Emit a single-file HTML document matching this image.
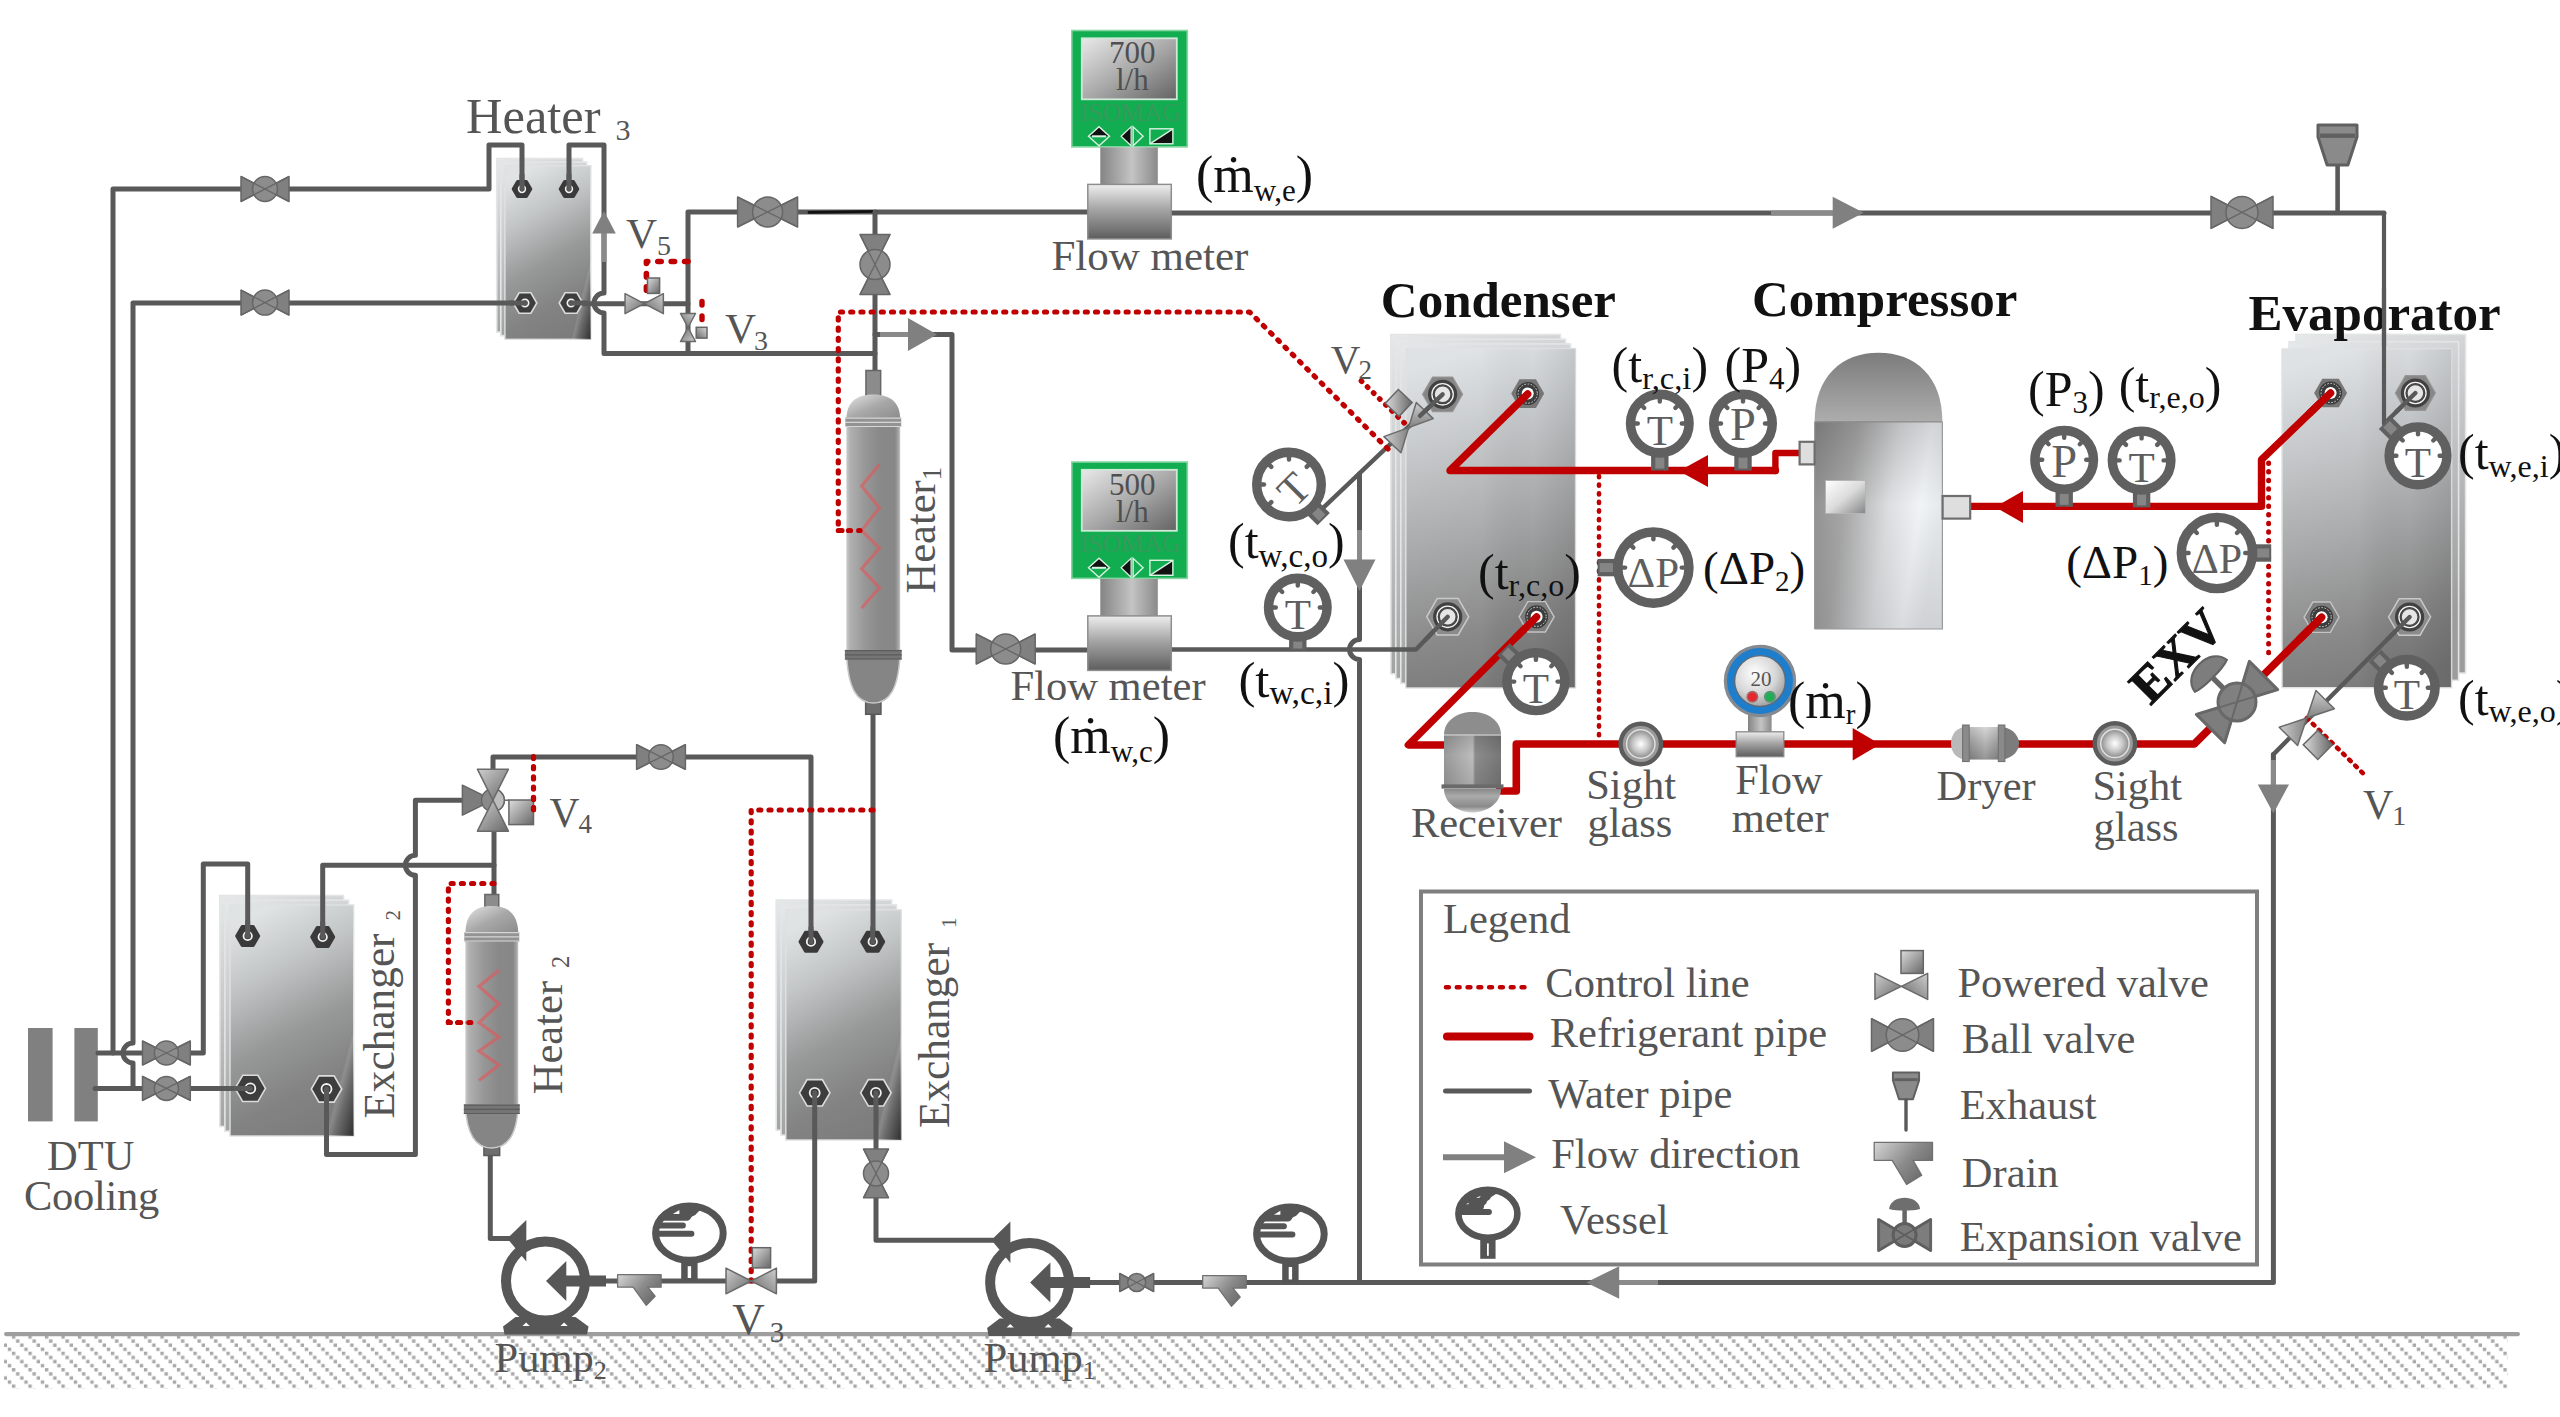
<!DOCTYPE html>
<html lang="en"><head><meta charset="utf-8"><title>Heat pump test rig schematic</title><style>html,body{margin:0;padding:0;background:#fff;}svg{display:block;}</style></head><body>
<svg width="2560" height="1417" viewBox="0 0 2560 1417" font-family="'Liberation Serif', 'DejaVu Serif', serif">
<defs>
<linearGradient id="gPlate" x1="0.36" y1="0" x2="0.64" y2="1">
 <stop offset="0" stop-color="#dfe3e4"/><stop offset="0.25" stop-color="#c3c6c7"/>
 <stop offset="0.55" stop-color="#979898"/><stop offset="0.80" stop-color="#838383"/>
 <stop offset="1" stop-color="#7c7c7c"/>
</linearGradient>
<linearGradient id="gCorner" x1="0.55" y1="0.78" x2="1" y2="1">
 <stop offset="0" stop-color="#000" stop-opacity="0"/><stop offset="0.55" stop-color="#000" stop-opacity="0"/>
 <stop offset="0.62" stop-color="#fff" stop-opacity="0.10"/><stop offset="0.72" stop-color="#000" stop-opacity="0.12"/>
 <stop offset="1" stop-color="#000" stop-opacity="0.62"/>
</linearGradient>
<linearGradient id="gPlateBig" x1="0.42" y1="0" x2="0.58" y2="1">
 <stop offset="0" stop-color="#dde1e3"/><stop offset="0.22" stop-color="#c6c9cb"/>
 <stop offset="0.55" stop-color="#a2a3a4"/><stop offset="0.82" stop-color="#828282"/>
 <stop offset="1" stop-color="#727272"/>
</linearGradient>
<linearGradient id="gPlateBigH" x1="0" y1="0" x2="1" y2="0">
 <stop offset="0" stop-color="#fff" stop-opacity="0.04"/><stop offset="0.45" stop-color="#fff" stop-opacity="0.06"/>
 <stop offset="0.75" stop-color="#000" stop-opacity="0.0"/><stop offset="1" stop-color="#000" stop-opacity="0.07"/>
</linearGradient>
<linearGradient id="gBack" x1="0" y1="0" x2="0.3" y2="1">
 <stop offset="0" stop-color="#e6e9ea"/><stop offset="0.5" stop-color="#c2c4c5"/><stop offset="1" stop-color="#9c9c9c"/>
</linearGradient>
<linearGradient id="gCyl" x1="0" y1="0" x2="1" y2="0">
 <stop offset="0" stop-color="#cacaca"/><stop offset="0.07" stop-color="#b0b0b0"/>
 <stop offset="0.35" stop-color="#979797"/><stop offset="0.62" stop-color="#898989"/>
 <stop offset="0.90" stop-color="#878787"/><stop offset="0.96" stop-color="#a0a0a0"/><stop offset="1" stop-color="#c6c6c6"/>
</linearGradient>
<linearGradient id="gDome" x1="0" y1="0" x2="1" y2="1">
 <stop offset="0" stop-color="#e4e4e4"/><stop offset="0.5" stop-color="#a8a8a8"/><stop offset="1" stop-color="#8a8a8a"/>
</linearGradient>
<linearGradient id="gScreen" x1="0" y1="0" x2="1" y2="1">
 <stop offset="0" stop-color="#e9e9e9"/><stop offset="0.5" stop-color="#aaaaaa"/><stop offset="1" stop-color="#636363"/>
</linearGradient>
<linearGradient id="gStem" x1="0" y1="0" x2="1" y2="0">
 <stop offset="0" stop-color="#848484"/><stop offset="0.55" stop-color="#c4c4c4"/><stop offset="1" stop-color="#8a8a8a"/>
</linearGradient>
<linearGradient id="gBody" x1="0" y1="0" x2="0" y2="1">
 <stop offset="0" stop-color="#eeeeee"/><stop offset="0.45" stop-color="#a6a6a6"/><stop offset="1" stop-color="#5e5e5e"/>
</linearGradient>
<linearGradient id="gTri" x1="0" y1="0" x2="1" y2="1">
 <stop offset="0" stop-color="#cfcfcf"/><stop offset="1" stop-color="#686868"/>
</linearGradient>
<linearGradient id="gTriR" x1="1" y1="0" x2="0" y2="1">
 <stop offset="0" stop-color="#cfcfcf"/><stop offset="1" stop-color="#686868"/>
</linearGradient>
<linearGradient id="gAct" x1="0" y1="0" x2="1" y2="1">
 <stop offset="0" stop-color="#dcdcdc"/><stop offset="1" stop-color="#676767"/>
</linearGradient>
<linearGradient id="gComp" x1="0" y1="0.1" x2="1" y2="0.35">
 <stop offset="0" stop-color="#8c8c8c"/><stop offset="0.30" stop-color="#a8a8a8"/>
 <stop offset="0.62" stop-color="#dcdee0"/><stop offset="0.85" stop-color="#f1f4f7"/><stop offset="1" stop-color="#e6e9ec"/>
</linearGradient>
<linearGradient id="gCompV" x1="0" y1="0" x2="0" y2="1">
 <stop offset="0" stop-color="#000" stop-opacity="0.13"/><stop offset="0.4" stop-color="#000" stop-opacity="0"/>
 <stop offset="1" stop-color="#000" stop-opacity="0.10"/>
</linearGradient>
<linearGradient id="gCompDome" x1="0" y1="0" x2="0" y2="1">
 <stop offset="0" stop-color="#7c7c7c"/><stop offset="1" stop-color="#adadad"/>
</linearGradient>
<linearGradient id="gWin" x1="0" y1="0" x2="1" y2="1">
 <stop offset="0" stop-color="#ffffff"/><stop offset="0.5" stop-color="#dcdcdc"/><stop offset="1" stop-color="#858585"/>
</linearGradient>
<linearGradient id="gRecv" x1="0" y1="0" x2="1" y2="0">
 <stop offset="0" stop-color="#9a9a9a"/><stop offset="0.5" stop-color="#bdbdbd"/><stop offset="0.55" stop-color="#8c8c8c"/><stop offset="1" stop-color="#777"/>
</linearGradient>
<linearGradient id="gRecvV" x1="0" y1="0" x2="0" y2="1">
 <stop offset="0" stop-color="#888"/><stop offset="0.3" stop-color="#aaa"/><stop offset="0.75" stop-color="#8a8a8a"/><stop offset="1" stop-color="#d0d0d0"/>
</linearGradient>
<radialGradient id="gSight" cx="0.5" cy="0.5" r="0.5">
 <stop offset="0" stop-color="#ffffff"/><stop offset="0.55" stop-color="#c8c8c8"/><stop offset="1" stop-color="#8c8c8c"/>
</radialGradient>
<radialGradient id="gFace" cx="0.4" cy="0.35" r="0.7">
 <stop offset="0" stop-color="#ffffff"/><stop offset="0.6" stop-color="#d6d6d6"/><stop offset="1" stop-color="#9a9a9a"/>
</radialGradient>
<linearGradient id="gDrain" x1="0" y1="0" x2="1" y2="0.6">
 <stop offset="0" stop-color="#d6d6d6"/><stop offset="0.6" stop-color="#8a8a8a"/><stop offset="1" stop-color="#6a6a6a"/>
</linearGradient>
<pattern id="hatch" x="11.9" y="1335.3" width="16.5" height="16.4" patternUnits="userSpaceOnUse">
 <rect width="16.5" height="16.4" fill="#fff"/>
 <rect x="0" y="0" width="3.4" height="3.4" fill="#a8a8a8"/><rect x="4.1" y="4.1" width="3.4" height="3.4" fill="#a8a8a8"/>
 <rect x="8.25" y="8.2" width="3.4" height="3.4" fill="#a8a8a8"/><rect x="12.4" y="12.3" width="3.4" height="3.4" fill="#a8a8a8"/>
</pattern>
</defs>
<rect x="0" y="0" width="2560" height="1417" fill="#ffffff"/>
<rect x="4" y="1335.3" width="2503.5" height="53.2" fill="url(#hatch)"/>
<rect x="4" y="1332" width="2516" height="4.2" rx="2.1" fill="#9e9e9e"/>
<rect x="496.7" y="158.5" width="85.9" height="173.6" fill="url(#gBack)" stroke="#e3e5e6" stroke-width="1.6"/>
<rect x="500.8" y="162.1" width="85.9" height="173.6" fill="url(#gBack)" stroke="#e3e5e6" stroke-width="1.6"/>
<rect x="504.9" y="165.7" width="85.9" height="173.6" fill="url(#gPlate)" stroke="#dfe1e2" stroke-width="1.4"/>
<rect x="504.9" y="165.7" width="85.9" height="173.6" fill="url(#gCorner)"/>
<rect x="219.8" y="895.5" width="123.7" height="231" fill="url(#gBack)" stroke="#e3e5e6" stroke-width="1.6"/>
<rect x="224.9" y="900.2" width="123.7" height="231" fill="url(#gBack)" stroke="#e3e5e6" stroke-width="1.6"/>
<rect x="230" y="905" width="123.7" height="231" fill="url(#gPlate)" stroke="#dfe1e2" stroke-width="1.4"/>
<rect x="230" y="905" width="123.7" height="231" fill="url(#gCorner)"/>
<rect x="776.2" y="900.0" width="115.5" height="230.2" fill="url(#gBack)" stroke="#e3e5e6" stroke-width="1.6"/>
<rect x="781.0" y="904.9" width="115.5" height="230.2" fill="url(#gBack)" stroke="#e3e5e6" stroke-width="1.6"/>
<rect x="785.8" y="909.8" width="115.5" height="230.2" fill="url(#gPlate)" stroke="#dfe1e2" stroke-width="1.4"/>
<rect x="785.8" y="909.8" width="115.5" height="230.2" fill="url(#gCorner)"/>
<rect x="1390.8" y="334.5" width="169.7" height="339.4" fill="url(#gBack)" stroke="#e3e5e6" stroke-width="1.6"/>
<rect x="1395.8" y="339.2" width="169.7" height="339.4" fill="url(#gBack)" stroke="#e3e5e6" stroke-width="1.6"/>
<rect x="1400.8" y="343.9" width="169.7" height="339.4" fill="url(#gBack)" stroke="#e3e5e6" stroke-width="1.6"/>
<rect x="1405.8" y="348.6" width="169.7" height="339.4" fill="url(#gPlateBig)" stroke="#dfe1e2" stroke-width="1.4"/>
<rect x="1405.8" y="348.6" width="169.7" height="339.4" fill="url(#gPlateBigH)"/>
<rect x="2296.0" y="334.4" width="169.6" height="338.7" fill="url(#gBack)" stroke="#e3e5e6" stroke-width="1.6"/>
<rect x="2289.0" y="341.7" width="169.6" height="338.7" fill="url(#gBack)" stroke="#e3e5e6" stroke-width="1.6"/>
<rect x="2282" y="349" width="169.6" height="338.7" fill="url(#gPlateBig)" stroke="#dfe1e2" stroke-width="1.4"/>
<rect x="2282" y="349" width="169.6" height="338.7" fill="url(#gPlateBigH)"/>
<rect x="28" y="1028" width="24.6" height="93.4" fill="#808080"/>
<rect x="74.4" y="1028" width="23.4" height="93.4" fill="#808080"/>
<path d="M98,1053 H203.3 V864 H247.7 V936" fill="none" stroke="#595959" stroke-width="5" stroke-linejoin="round" stroke-linecap="round" />
<path d="M113,1053 V189 H489 V145 H522 V189" fill="none" stroke="#595959" stroke-width="5" stroke-linejoin="round" stroke-linecap="round" />
<path d="M95,1088.4 H250" fill="none" stroke="#595959" stroke-width="5" stroke-linejoin="round" stroke-linecap="round" />
<path d="M133,1088.4 V1063 A10,10 0 0 1 133,1043 V303 H525" fill="none" stroke="#595959" stroke-width="5" stroke-linejoin="round" stroke-linecap="round" />
<path d="M569,189 V145 H604 V293 A10,10 0 0 0 604,313 V353.5 H875" fill="none" stroke="#595959" stroke-width="5" stroke-linejoin="round" stroke-linecap="round" />
<path d="M571,303.7 H688" fill="none" stroke="#595959" stroke-width="5" stroke-linejoin="round" stroke-linecap="round" />
<path d="M688,353.5 V212 H1090" fill="none" stroke="#595959" stroke-width="5" stroke-linejoin="round" stroke-linecap="round" />
<line x1="809" y1="212.4" x2="876" y2="211.4" stroke="#111" stroke-width="2.8" stroke-linecap="round"/>
<path d="M875,212 V372" fill="none" stroke="#595959" stroke-width="5" stroke-linejoin="round" stroke-linecap="round" />
<path d="M875,334.5 H952 V650 H1090" fill="none" stroke="#595959" stroke-width="5" stroke-linejoin="round" stroke-linecap="round" />
<path d="M1170,213 H2384" fill="none" stroke="#595959" stroke-width="5" stroke-linejoin="round" stroke-linecap="round" />
<path d="M2384,213 V424" fill="none" stroke="#595959" stroke-width="4.2" stroke-linejoin="round" stroke-linecap="round" />
<path d="M1170,649.5 H1416 L1447.7,616.8" fill="none" stroke="#595959" stroke-width="4.4" stroke-linejoin="round" stroke-linecap="round" />
<path d="M1442.6,394.3 L1317,513.7" fill="none" stroke="#595959" stroke-width="4.4" stroke-linejoin="round" stroke-linecap="round" />
<path d="M1359.5,474 V639.5 A10,10 0 0 0 1359.5,659.5 V1282.5" fill="none" stroke="#595959" stroke-width="5" stroke-linejoin="round" stroke-linecap="round" />
<path d="M2388,420 L2415.4,393" fill="none" stroke="#595959" stroke-width="4.4" stroke-linejoin="round" stroke-linecap="round" />
<path d="M2409.6,617 L2273.4,754.4" fill="none" stroke="#595959" stroke-width="4.4" stroke-linejoin="round" stroke-linecap="round" />
<path d="M2273.4,754.4 V1282.5 H1070" fill="none" stroke="#595959" stroke-width="5" stroke-linejoin="round" stroke-linecap="round" />
<path d="M993,1240.3 H876 V1093" fill="none" stroke="#595959" stroke-width="5" stroke-linejoin="round" stroke-linecap="round" />
<path d="M811,941.7 V757 H493 V770" fill="none" stroke="#595959" stroke-width="5" stroke-linejoin="round" stroke-linecap="round" />
<path d="M494,830 V895" fill="none" stroke="#595959" stroke-width="5" stroke-linejoin="round" stroke-linecap="round" />
<path d="M873,941.7 V714" fill="none" stroke="#595959" stroke-width="5" stroke-linejoin="round" stroke-linecap="round" />
<path d="M814.7,1093 V1281 H600" fill="none" stroke="#595959" stroke-width="5" stroke-linejoin="round" stroke-linecap="round" />
<path d="M510,1238.5 H490.3 V1155" fill="none" stroke="#595959" stroke-width="5" stroke-linejoin="round" stroke-linecap="round" />
<path d="M322.7,937 V865.3 H494" fill="none" stroke="#595959" stroke-width="5" stroke-linejoin="round" stroke-linecap="round" />
<path d="M464,800.2 H415.4 V855.3 A10,10 0 0 0 415.4,875.3 V1154.5 H326.5 V1089" fill="none" stroke="#595959" stroke-width="5" stroke-linejoin="round" stroke-linecap="round" />
<line x1="2337.6" y1="163" x2="2337.6" y2="213" stroke="#595959" stroke-width="4.6"/>
<line x1="604" y1="233" x2="604" y2="262" stroke="#8a8a8a" stroke-width="5"/>
<line x1="1771" y1="213" x2="1834" y2="213" stroke="#8a8a8a" stroke-width="5"/>
<line x1="1359.5" y1="530" x2="1359.5" y2="561" stroke="#8a8a8a" stroke-width="5"/>
<line x1="2273.4" y1="760" x2="2273.4" y2="786" stroke="#8a8a8a" stroke-width="5"/>
<line x1="1618" y1="1282.5" x2="1658" y2="1282.5" stroke="#8a8a8a" stroke-width="5"/>
<line x1="880" y1="334.5" x2="910" y2="334.5" stroke="#8a8a8a" stroke-width="5"/>
<polygon points="604.0,211.0 592.2,233.5 615.8,233.5" fill="#808080"/>
<polygon points="937.0,334.5 908.0,318.0 908.0,351.0" fill="#808080"/>
<polygon points="1863.7,212.7 1832.7,196.7 1832.7,228.7" fill="#808080"/>
<polygon points="1359.5,591.0 1343.5,559.5 1375.5,559.5" fill="#808080"/>
<polygon points="2273.4,813.4 2257.8,784.4 2289.0,784.4" fill="#808080"/>
<polygon points="1586.2,1282.5 1619.2,1266.2 1619.2,1298.8" fill="#808080"/>
<path d="M1803,453 H1775.4 V471" fill="none" stroke="#c00000" stroke-width="6.4" stroke-linejoin="round" stroke-linecap="round" />
<path d="M1775.5,470.5 H1450 L1527.7,394" fill="none" stroke="#c00000" stroke-width="7.4" stroke-linejoin="round" stroke-linecap="round" />
<path d="M2330.6,393 L2261.5,459.6 V506.4 H1970" fill="none" stroke="#c00000" stroke-width="7.4" stroke-linejoin="round" stroke-linecap="round" />
<path d="M1536.6,616.8 L1408.3,745 H1446" fill="none" stroke="#c00000" stroke-width="7.4" stroke-linejoin="round" stroke-linecap="round" />
<path d="M1499,791 H1516.3 V744 H2194.3 L2321.6,617.2" fill="none" stroke="#c00000" stroke-width="7.6" stroke-linejoin="round" stroke-linecap="round" />
<polygon points="1679.0,471.0 1708.0,455.0 1708.0,487.0" fill="#c00000"/>
<polygon points="1995.0,507.0 2023.0,491.0 2023.0,523.0" fill="#c00000"/>
<polygon points="1880.2,744.3 1852.7,728.0 1852.7,760.6" fill="#c00000"/>
<path d="M1388,449 L1249.6,312 H838.3 V530.5 H860" fill="none" stroke="#c00000" stroke-width="5.2" stroke-linecap="round" stroke-linejoin="round" stroke-dasharray="2 8.2"/>
<path d="M1361.3,381 L1409.3,427.8" fill="none" stroke="#c00000" stroke-width="5.4" stroke-linecap="round" stroke-linejoin="round" stroke-dasharray="0.6 7.9"/>
<path d="M688,261.5 H646.4 V292.5" fill="none" stroke="#c00000" stroke-width="5.6" stroke-linecap="round" stroke-linejoin="round" stroke-dasharray="3.4 10"/>
<path d="M702,301.5 V334" fill="none" stroke="#c00000" stroke-width="5.4" stroke-linecap="round" stroke-linejoin="round" stroke-dasharray="3.6 10.8"/>
<path d="M1599,476 V740" fill="none" stroke="#c00000" stroke-width="4.6" stroke-linecap="round" stroke-linejoin="round" stroke-dasharray="1.2 7.4"/>
<path d="M2268.6,463 V659" fill="none" stroke="#c00000" stroke-width="5" stroke-linecap="round" stroke-linejoin="round" stroke-dasharray="0.5 8.1"/>
<path d="M2306.8,718 L2366.8,777" fill="none" stroke="#c00000" stroke-width="4.6" stroke-linecap="round" stroke-linejoin="round" stroke-dasharray="2 6.5"/>
<path d="M873,810 H751.2 V1281" fill="none" stroke="#c00000" stroke-width="5.2" stroke-linecap="round" stroke-linejoin="round" stroke-dasharray="2 8.2"/>
<path d="M494,883.5 H448.4 V1022.5 H476.4" fill="none" stroke="#c00000" stroke-width="5.2" stroke-linecap="round" stroke-linejoin="round" stroke-dasharray="2 8.2"/>
<path d="M533.5,756.5 V813.7" fill="none" stroke="#c00000" stroke-width="5.2" stroke-linecap="round" stroke-linejoin="round" stroke-dasharray="2 8.2"/>
<g transform="translate(265,189) rotate(0)"><polygon points="-24.0,-12.5 -24.0,12.5 0,0" fill="#808080" stroke="#666" stroke-width="1.5" stroke-linejoin="round"/><polygon points="24.0,-12.5 24.0,12.5 0,0" fill="#808080" stroke="#666" stroke-width="1.5" stroke-linejoin="round"/><circle r="12.5" fill="#8c8c8c" stroke="#666" stroke-width="1.5"/><path d="M-24.0,-12.5 L24.0,12.5 M-24.0,12.5 L24.0,-12.5" stroke="#666" stroke-width="1.3"/></g>
<g transform="translate(265,302.6) rotate(0)"><polygon points="-24.0,-12.5 -24.0,12.5 0,0" fill="#808080" stroke="#666" stroke-width="1.5" stroke-linejoin="round"/><polygon points="24.0,-12.5 24.0,12.5 0,0" fill="#808080" stroke="#666" stroke-width="1.5" stroke-linejoin="round"/><circle r="12.5" fill="#8c8c8c" stroke="#666" stroke-width="1.5"/><path d="M-24.0,-12.5 L24.0,12.5 M-24.0,12.5 L24.0,-12.5" stroke="#666" stroke-width="1.3"/></g>
<g transform="translate(767.6,212) rotate(0)"><polygon points="-30.0,-15.0 -30.0,15.0 0,0" fill="#808080" stroke="#666" stroke-width="1.5" stroke-linejoin="round"/><polygon points="30.0,-15.0 30.0,15.0 0,0" fill="#808080" stroke="#666" stroke-width="1.5" stroke-linejoin="round"/><circle r="15.0" fill="#8c8c8c" stroke="#666" stroke-width="1.5"/><path d="M-30.0,-15.0 L30.0,15.0 M-30.0,15.0 L30.0,-15.0" stroke="#666" stroke-width="1.3"/></g>
<g transform="translate(875,264.5) rotate(90)"><polygon points="-30.0,-15.0 -30.0,15.0 0,0" fill="#808080" stroke="#666" stroke-width="1.5" stroke-linejoin="round"/><polygon points="30.0,-15.0 30.0,15.0 0,0" fill="#808080" stroke="#666" stroke-width="1.5" stroke-linejoin="round"/><circle r="15.0" fill="#8c8c8c" stroke="#666" stroke-width="1.5"/><path d="M-30.0,-15.0 L30.0,15.0 M-30.0,15.0 L30.0,-15.0" stroke="#666" stroke-width="1.3"/></g>
<g transform="translate(1005.7,649) rotate(0)"><polygon points="-29.5,-15.0 -29.5,15.0 0,0" fill="#808080" stroke="#666" stroke-width="1.5" stroke-linejoin="round"/><polygon points="29.5,-15.0 29.5,15.0 0,0" fill="#808080" stroke="#666" stroke-width="1.5" stroke-linejoin="round"/><circle r="15.0" fill="#8c8c8c" stroke="#666" stroke-width="1.5"/><path d="M-29.5,-15.0 L29.5,15.0 M-29.5,15.0 L29.5,-15.0" stroke="#666" stroke-width="1.3"/></g>
<g transform="translate(2242,212.4) rotate(0)"><polygon points="-31.0,-16.0 -31.0,16.0 0,0" fill="#808080" stroke="#666" stroke-width="1.5" stroke-linejoin="round"/><polygon points="31.0,-16.0 31.0,16.0 0,0" fill="#808080" stroke="#666" stroke-width="1.5" stroke-linejoin="round"/><circle r="16.0" fill="#8c8c8c" stroke="#666" stroke-width="1.5"/><path d="M-31.0,-16.0 L31.0,16.0 M-31.0,16.0 L31.0,-16.0" stroke="#666" stroke-width="1.3"/></g>
<g transform="translate(166.4,1053) rotate(0)"><polygon points="-23.9,-12.0 -23.9,12.0 0,0" fill="#808080" stroke="#666" stroke-width="1.5" stroke-linejoin="round"/><polygon points="23.9,-12.0 23.9,12.0 0,0" fill="#808080" stroke="#666" stroke-width="1.5" stroke-linejoin="round"/><circle r="12.0" fill="#8c8c8c" stroke="#666" stroke-width="1.5"/><path d="M-23.9,-12.0 L23.9,12.0 M-23.9,12.0 L23.9,-12.0" stroke="#666" stroke-width="1.3"/></g>
<g transform="translate(166.4,1088.4) rotate(0)"><polygon points="-23.9,-12.0 -23.9,12.0 0,0" fill="#808080" stroke="#666" stroke-width="1.5" stroke-linejoin="round"/><polygon points="23.9,-12.0 23.9,12.0 0,0" fill="#808080" stroke="#666" stroke-width="1.5" stroke-linejoin="round"/><circle r="12.0" fill="#8c8c8c" stroke="#666" stroke-width="1.5"/><path d="M-23.9,-12.0 L23.9,12.0 M-23.9,12.0 L23.9,-12.0" stroke="#666" stroke-width="1.3"/></g>
<g transform="translate(661,757) rotate(0)"><polygon points="-24.4,-12.3 -24.4,12.3 0,0" fill="#808080" stroke="#666" stroke-width="1.5" stroke-linejoin="round"/><polygon points="24.4,-12.3 24.4,12.3 0,0" fill="#808080" stroke="#666" stroke-width="1.5" stroke-linejoin="round"/><circle r="12.3" fill="#8c8c8c" stroke="#666" stroke-width="1.5"/><path d="M-24.4,-12.3 L24.4,12.3 M-24.4,12.3 L24.4,-12.3" stroke="#666" stroke-width="1.3"/></g>
<g transform="translate(876,1173.4) rotate(90)"><polygon points="-24.4,-12.5 -24.4,12.5 0,0" fill="#808080" stroke="#666" stroke-width="1.5" stroke-linejoin="round"/><polygon points="24.4,-12.5 24.4,12.5 0,0" fill="#808080" stroke="#666" stroke-width="1.5" stroke-linejoin="round"/><circle r="12.5" fill="#8c8c8c" stroke="#666" stroke-width="1.5"/><path d="M-24.4,-12.5 L24.4,12.5 M-24.4,12.5 L24.4,-12.5" stroke="#666" stroke-width="1.3"/></g>
<g transform="translate(1136.7,1282.5) rotate(0)"><polygon points="-17.0,-9.0 -17.0,9.0 0,0" fill="#808080" stroke="#666" stroke-width="1.5" stroke-linejoin="round"/><polygon points="17.0,-9.0 17.0,9.0 0,0" fill="#808080" stroke="#666" stroke-width="1.5" stroke-linejoin="round"/><circle r="9.0" fill="#8c8c8c" stroke="#666" stroke-width="1.5"/><path d="M-17.0,-9.0 L17.0,9.0 M-17.0,9.0 L17.0,-9.0" stroke="#666" stroke-width="1.3"/></g>
<g transform="translate(644.2,303.7) rotate(0)"><rect x="3.3" y="-25.7" width="12.1" height="15.4" fill="url(#gAct)" stroke="#666" stroke-width="1.5"/><polygon points="-19.15,-10.0 -19.15,10.0 0,0" fill="url(#gTri)" stroke="#6a6a6a" stroke-width="1.5" stroke-linejoin="round"/><polygon points="19.15,-10.0 19.15,10.0 0,0" fill="url(#gTriR)" stroke="#6a6a6a" stroke-width="1.5" stroke-linejoin="round"/></g>
<g transform="translate(688,327.5) rotate(90)"><rect x="-0.2" y="-19" width="10.8" height="10.8" fill="url(#gAct)" stroke="#666" stroke-width="1.5"/><polygon points="-14.0,-7.5 -14.0,7.5 0,0" fill="url(#gTri)" stroke="#6a6a6a" stroke-width="1.5" stroke-linejoin="round"/><polygon points="14.0,-7.5 14.0,7.5 0,0" fill="url(#gTriR)" stroke="#6a6a6a" stroke-width="1.5" stroke-linejoin="round"/></g>
<g transform="translate(751.2,1281) rotate(0)"><rect x="1.2" y="-33.3" width="18.2" height="20.2" fill="url(#gAct)" stroke="#666" stroke-width="1.5"/><polygon points="-25.2,-12.85 -25.2,12.85 0,0" fill="url(#gTri)" stroke="#6a6a6a" stroke-width="1.5" stroke-linejoin="round"/><polygon points="25.2,-12.85 25.2,12.85 0,0" fill="url(#gTriR)" stroke="#6a6a6a" stroke-width="1.5" stroke-linejoin="round"/></g>
<g transform="translate(1408.6,427.6) rotate(-46.5)"><rect x="1.6" y="-33.7" width="19" height="19" fill="url(#gAct)" stroke="#666" stroke-width="1.5"/><polygon points="-23.5,-11.7 -23.5,11.7 0,0" fill="url(#gTri)" stroke="#6a6a6a" stroke-width="1.5" stroke-linejoin="round"/><polygon points="23.5,-11.7 23.5,11.7 0,0" fill="url(#gTriR)" stroke="#6a6a6a" stroke-width="1.5" stroke-linejoin="round"/></g>
<g transform="translate(2306.8,718) rotate(-45)"><rect x="-21.5" y="16.5" width="20.6" height="20.6" fill="url(#gAct)" stroke="#666" stroke-width="1.5"/><polygon points="-26.0,-13.0 -26.0,13.0 0,0" fill="url(#gTri)" stroke="#6a6a6a" stroke-width="1.5" stroke-linejoin="round"/><polygon points="26.0,-13.0 26.0,13.0 0,0" fill="url(#gTriR)" stroke="#6a6a6a" stroke-width="1.5" stroke-linejoin="round"/></g>
<g transform="translate(492.9,800.2)"><rect x="16" y="-0.2" width="24.6" height="24.6" fill="url(#gAct)" stroke="#666" stroke-width="1.5"/><polygon points="-30.5,-15 -30.5,15 0,0" fill="#7d7d7d" stroke="#666" stroke-width="1.5" stroke-linejoin="round"/><circle r="11.4" fill="#8a8a8a" stroke="#666" stroke-width="1.4"/><path d="M0,-11.4 A11.4,11.4 0 0 1 0,11.4 Z" fill="#bdbdbd" stroke="#666" stroke-width="1.4"/><polygon points="-15.5,-31 15.5,-31 0,0" fill="url(#gTri)" stroke="#6a6a6a" stroke-width="1.5" stroke-linejoin="round"/><polygon points="-15.5,31 15.5,31 0,0" fill="url(#gTri)" stroke="#6a6a6a" stroke-width="1.5" stroke-linejoin="round"/><path d="M11.4,0 H16" stroke="#666" stroke-width="1.5"/></g>
<path d="M533.5,797.5 V813.7" fill="none" stroke="#c00000" stroke-width="5.2" stroke-linecap="round" stroke-linejoin="round" stroke-dasharray="2 8.2"/>
<g transform="translate(522,189)"><polygon points="8.80,0.00 4.40,7.62 -4.40,7.62 -8.80,0.00 -4.40,-7.62 4.40,-7.62" fill="#3a3a3a" stroke="#3a3a3a" stroke-width="3" stroke-linejoin="round"/><circle r="3.3" fill="none" stroke="#f2f2f2" stroke-width="1.8"/></g>
<g transform="translate(569,189)"><polygon points="8.80,0.00 4.40,7.62 -4.40,7.62 -8.80,0.00 -4.40,-7.62 4.40,-7.62" fill="#3a3a3a" stroke="#3a3a3a" stroke-width="3" stroke-linejoin="round"/><circle r="3.3" fill="none" stroke="#f2f2f2" stroke-width="1.8"/></g>
<g transform="translate(525,303)"><polygon points="11.80,0.00 5.90,10.22 -5.90,10.22 -11.80,0.00 -5.90,-10.22 5.90,-10.22" fill="#3d3d3d" stroke="#dcdcdc" stroke-width="1.6"/><circle r="3.6" fill="none" stroke="#f2f2f2" stroke-width="1.8"/></g>
<g transform="translate(571,303)"><polygon points="11.80,0.00 5.90,10.22 -5.90,10.22 -11.80,0.00 -5.90,-10.22 5.90,-10.22" fill="#3d3d3d" stroke="#dcdcdc" stroke-width="1.6"/><circle r="3.6" fill="none" stroke="#f2f2f2" stroke-width="1.8"/></g>
<g transform="translate(247.7,936)"><polygon points="11.00,0.00 5.50,9.53 -5.50,9.53 -11.00,0.00 -5.50,-9.53 5.50,-9.53" fill="#3a3a3a" stroke="#3a3a3a" stroke-width="3" stroke-linejoin="round"/><circle r="4.2" fill="none" stroke="#f2f2f2" stroke-width="1.8"/></g>
<g transform="translate(322.7,937)"><polygon points="11.00,0.00 5.50,9.53 -5.50,9.53 -11.00,0.00 -5.50,-9.53 5.50,-9.53" fill="#3a3a3a" stroke="#3a3a3a" stroke-width="3" stroke-linejoin="round"/><circle r="4.2" fill="none" stroke="#f2f2f2" stroke-width="1.8"/></g>
<g transform="translate(250.3,1088.4)"><polygon points="15.20,0.00 7.60,13.16 -7.60,13.16 -15.20,0.00 -7.60,-13.16 7.60,-13.16" fill="#3d3d3d" stroke="#dcdcdc" stroke-width="1.6"/><circle r="5.0" fill="none" stroke="#f2f2f2" stroke-width="1.8"/></g>
<g transform="translate(326.5,1089)"><polygon points="15.20,0.00 7.60,13.16 -7.60,13.16 -15.20,0.00 -7.60,-13.16 7.60,-13.16" fill="#3d3d3d" stroke="#dcdcdc" stroke-width="1.6"/><circle r="5.0" fill="none" stroke="#f2f2f2" stroke-width="1.8"/></g>
<g transform="translate(811,941.7)"><polygon points="11.00,0.00 5.50,9.53 -5.50,9.53 -11.00,0.00 -5.50,-9.53 5.50,-9.53" fill="#3a3a3a" stroke="#3a3a3a" stroke-width="3" stroke-linejoin="round"/><circle r="4.2" fill="none" stroke="#f2f2f2" stroke-width="1.8"/></g>
<g transform="translate(872.7,941.7)"><polygon points="11.00,0.00 5.50,9.53 -5.50,9.53 -11.00,0.00 -5.50,-9.53 5.50,-9.53" fill="#3a3a3a" stroke="#3a3a3a" stroke-width="3" stroke-linejoin="round"/><circle r="4.2" fill="none" stroke="#f2f2f2" stroke-width="1.8"/></g>
<g transform="translate(814.7,1092.8)"><polygon points="15.20,0.00 7.60,13.16 -7.60,13.16 -15.20,0.00 -7.60,-13.16 7.60,-13.16" fill="#3d3d3d" stroke="#dcdcdc" stroke-width="1.6"/><circle r="5.0" fill="none" stroke="#f2f2f2" stroke-width="1.8"/></g>
<g transform="translate(875.9,1092.8)"><polygon points="15.20,0.00 7.60,13.16 -7.60,13.16 -15.20,0.00 -7.60,-13.16 7.60,-13.16" fill="#3d3d3d" stroke="#dcdcdc" stroke-width="1.6"/><circle r="5.0" fill="none" stroke="#f2f2f2" stroke-width="1.8"/></g>
<g transform="translate(1442.6,394.3)"><polygon points="20.00,0.00 10.00,17.32 -10.00,17.32 -20.00,0.00 -10.00,-17.32 10.00,-17.32" fill="#868686" stroke="#969696" stroke-width="1.2"/><circle r="14.6" fill="#414141"/><circle r="10.7" fill="none" stroke="#f4f4f4" stroke-width="1.3"/><circle r="8.6" fill="#e6e6e6" stroke="#4a4a4a" stroke-width="1.7"/></g>
<g transform="translate(1447.7,616.8)"><polygon points="21.00,0.00 10.50,18.19 -10.50,18.19 -21.00,0.00 -10.50,-18.19 10.50,-18.19" fill="#8b8b8b" stroke="#c9c9c9" stroke-width="1.5"/><circle r="14.6" fill="#414141"/><circle r="10.7" fill="none" stroke="#f4f4f4" stroke-width="1.3"/><circle r="8.6" fill="#e6e6e6" stroke="#4a4a4a" stroke-width="1.7"/></g>
<g transform="translate(1527.7,393.6)"><polygon points="16.50,0.00 8.25,14.29 -8.25,14.29 -16.50,0.00 -8.25,-14.29 8.25,-14.29" fill="#767676"/><circle r="11.5" fill="#3c3c3c"/><circle r="9.6" fill="none" stroke="#d8d8d8" stroke-width="1" stroke-dasharray="1.6 1.6"/><circle r="6" fill="#fff"/></g>
<g transform="translate(1536.6,616.8)"><polygon points="17.50,0.00 8.75,15.16 -8.75,15.16 -17.50,0.00 -8.75,-15.16 8.75,-15.16" fill="#7d7d7d" stroke="#c4c4c4" stroke-width="1.4"/><circle r="11.5" fill="#3c3c3c"/><circle r="9.6" fill="none" stroke="#d8d8d8" stroke-width="1" stroke-dasharray="1.6 1.6"/><circle r="6" fill="#fff"/></g>
<g transform="translate(2330.6,393)"><polygon points="16.50,0.00 8.25,14.29 -8.25,14.29 -16.50,0.00 -8.25,-14.29 8.25,-14.29" fill="#767676"/><circle r="11.5" fill="#3c3c3c"/><circle r="9.6" fill="none" stroke="#d8d8d8" stroke-width="1" stroke-dasharray="1.6 1.6"/><circle r="6" fill="#fff"/></g>
<g transform="translate(2321.6,617.2)"><polygon points="17.50,0.00 8.75,15.16 -8.75,15.16 -17.50,0.00 -8.75,-15.16 8.75,-15.16" fill="#7d7d7d" stroke="#c4c4c4" stroke-width="1.4"/><circle r="11.5" fill="#3c3c3c"/><circle r="9.6" fill="none" stroke="#d8d8d8" stroke-width="1" stroke-dasharray="1.6 1.6"/><circle r="6" fill="#fff"/></g>
<g transform="translate(2415.4,393)"><polygon points="20.00,0.00 10.00,17.32 -10.00,17.32 -20.00,0.00 -10.00,-17.32 10.00,-17.32" fill="#868686" stroke="#969696" stroke-width="1.2"/><circle r="14.6" fill="#414141"/><circle r="10.7" fill="none" stroke="#f4f4f4" stroke-width="1.3"/><circle r="8.6" fill="#e6e6e6" stroke="#4a4a4a" stroke-width="1.7"/></g>
<g transform="translate(2409.6,617)"><polygon points="21.00,0.00 10.50,18.19 -10.50,18.19 -21.00,0.00 -10.50,-18.19 10.50,-18.19" fill="#8b8b8b" stroke="#c9c9c9" stroke-width="1.5"/><circle r="14.6" fill="#414141"/><circle r="10.7" fill="none" stroke="#f4f4f4" stroke-width="1.3"/><circle r="8.6" fill="#e6e6e6" stroke="#4a4a4a" stroke-width="1.7"/></g>
<path d="M1527.7,394 L1508,413.4" fill="none" stroke="#c00000" stroke-width="7.4" stroke-linejoin="round" stroke-linecap="round" />
<path d="M1536.6,616.8 L1516,637.4" fill="none" stroke="#c00000" stroke-width="7.4" stroke-linejoin="round" stroke-linecap="round" />
<path d="M2330.6,393 L2310,412.8" fill="none" stroke="#c00000" stroke-width="7.4" stroke-linejoin="round" stroke-linecap="round" />
<path d="M2321.6,617.2 L2300,638.8" fill="none" stroke="#c00000" stroke-width="7.6" stroke-linejoin="round" stroke-linecap="round" />
<path d="M1442.6,394.3 L1420,415.8" fill="none" stroke="#595959" stroke-width="4.4" stroke-linejoin="round" stroke-linecap="round" />
<path d="M1447.7,616.8 L1425,640.2" fill="none" stroke="#595959" stroke-width="4.4" stroke-linejoin="round" stroke-linecap="round" />
<path d="M2415.4,393 L2396,412" fill="none" stroke="#595959" stroke-width="4.4" stroke-linejoin="round" stroke-linecap="round" />
<path d="M2409.6,617 L2388,638.8" fill="none" stroke="#595959" stroke-width="4.4" stroke-linejoin="round" stroke-linecap="round" />
<path d="M522,189 V175" fill="none" stroke="#595959" stroke-width="5" stroke-linejoin="round" stroke-linecap="round" />
<path d="M569,189 V175" fill="none" stroke="#595959" stroke-width="5" stroke-linejoin="round" stroke-linecap="round" />
<path d="M247.7,936 V922" fill="none" stroke="#595959" stroke-width="5" stroke-linejoin="round" stroke-linecap="round" />
<path d="M322.7,937 V923" fill="none" stroke="#595959" stroke-width="5" stroke-linejoin="round" stroke-linecap="round" />
<path d="M811,941.7 V927.7" fill="none" stroke="#595959" stroke-width="5" stroke-linejoin="round" stroke-linecap="round" />
<path d="M872.7,941.7 V927.7" fill="none" stroke="#595959" stroke-width="5" stroke-linejoin="round" stroke-linecap="round" />
<path d="M326.5,1089 V1103" fill="none" stroke="#595959" stroke-width="5" stroke-linejoin="round" stroke-linecap="round" />
<path d="M814.7,1092.8 V1106.8" fill="none" stroke="#595959" stroke-width="5" stroke-linejoin="round" stroke-linecap="round" />
<path d="M875.9,1092.8 V1106.8" fill="none" stroke="#595959" stroke-width="5" stroke-linejoin="round" stroke-linecap="round" />
<path d="M525,303 H511" fill="none" stroke="#595959" stroke-width="5" stroke-linejoin="round" stroke-linecap="round" />
<path d="M250.3,1088.4 H236.3" fill="none" stroke="#595959" stroke-width="5" stroke-linejoin="round" stroke-linecap="round" />
<path d="M571,303 H586" fill="none" stroke="#595959" stroke-width="5" stroke-linejoin="round" stroke-linecap="round" />
<rect x="865.9499999999999" y="370.5" width="14.7" height="25.5" fill="#8c8c8c" stroke="#666" stroke-width="1.5"/>
<rect x="865.65" y="702" width="15.3" height="12.299999999999955" fill="#6e6e6e" stroke="#5a5a5a" stroke-width="1.5"/>
<path d="M846.4,419.5 C846.4,400.6 858.505,394.6 873.3,394.6 C888.0949999999999,394.6 900.1999999999999,400.6 900.1999999999999,419.5 Z" fill="url(#gDome)"/>
<path d="M846.4,650 C847.4,689 857.16,703 873.3,703 C889.4399999999999,703 899.1999999999999,689 900.1999999999999,650 Z" fill="#858585" stroke="#c9c9c9" stroke-width="1.5"/>
<rect x="846.4" y="417.5" width="53.8" height="232.5" fill="url(#gCyl)"/>
<rect x="845.4" y="417.5" width="55.8" height="9.5" fill="#939393"/>
<path d="M845.4,418.1 H901.1999999999999 M845.4,422.3 H901.1999999999999 M845.4,426.5 H901.1999999999999" stroke="#d6d6d6" stroke-width="1.2"/>
<rect x="844.9" y="650" width="56.8" height="9.5" fill="#757575"/>
<path d="M844.9,650.6 H901.6999999999999 M844.9,654.8 H901.6999999999999 M844.9,659 H901.6999999999999" stroke="#5c5c5c" stroke-width="1.2"/>
<polyline points="879.4,464.5 861.6,486.0 879.4,507.7 861.6,530.5 879.4,548.0 861.6,568.7 879.4,587.7 861.6,608.0" fill="none" stroke="#e2575b" stroke-opacity="0.62" stroke-width="3.2" stroke-linejoin="miter"/>
<rect x="484.85" y="894.5" width="13.9" height="13.5" fill="#8c8c8c" stroke="#666" stroke-width="1.5"/>
<rect x="483.95" y="1147" width="15.7" height="8.5" fill="#6e6e6e" stroke="#5a5a5a" stroke-width="1.5"/>
<path d="M465.35,934 C465.35,912 477.2525,906 491.8,906 C506.3475,906 518.25,912 518.25,934 Z" fill="url(#gDome)"/>
<path d="M465.35,1104.5 C466.35,1134 475.93,1148 491.8,1148 C507.67,1148 517.25,1134 518.25,1104.5 Z" fill="#858585" stroke="#c9c9c9" stroke-width="1.5"/>
<rect x="465.35" y="932" width="52.9" height="172.5" fill="url(#gCyl)"/>
<rect x="464.35" y="932" width="54.9" height="9.5" fill="#939393"/>
<path d="M464.35,932.6 H519.25 M464.35,936.8 H519.25 M464.35,941 H519.25" stroke="#d6d6d6" stroke-width="1.2"/>
<rect x="463.85" y="1104.5" width="55.9" height="9.5" fill="#757575"/>
<path d="M463.85,1105.1 H519.75 M463.85,1109.3 H519.75 M463.85,1113.5 H519.75" stroke="#5c5c5c" stroke-width="1.2"/>
<polyline points="499.2,970.0 479.0,986.4 499.0,1004.0 479.0,1022.5 499.0,1037.0 479.0,1051.0 499.0,1065.0 479.0,1080.4" fill="none" stroke="#e2575b" stroke-opacity="0.62" stroke-width="3.2" stroke-linejoin="miter"/>
<path d="M448.4,1022.5 H476.4" fill="none" stroke="#c00000" stroke-width="5.2" stroke-linecap="round" stroke-linejoin="round" stroke-dasharray="2 8.2"/>
<path d="M838.3,530.5 H860" fill="none" stroke="#c00000" stroke-width="5.2" stroke-linecap="round" stroke-linejoin="round" stroke-dasharray="2 8.2"/>
<rect x="1071.8" y="30.5" width="115.5" height="116.4" fill="#12ad51" stroke="#86d6a2" stroke-width="1.6"/>
<rect x="1081.8" y="38.3" width="95" height="61" fill="url(#gScreen)" stroke="#cfe9d8" stroke-width="1.8"/>
<text x="1132.3" y="63.3" font-size="31" fill="#4f4f4f" font-weight="normal" text-anchor="middle" >700</text>
<text x="1132.3" y="90.1" font-size="31" fill="#4f4f4f" font-weight="normal" text-anchor="middle" >l/h</text>
<text x="1130.05" y="120.9" font-size="25.5" fill="#36995c" font-weight="normal" text-anchor="middle" >ISOMAG</text>
<g transform="translate(1099.0,136.3)"><polygon points="-10,0 0,-9 10,0" fill="#111"/><polygon points="-10,0 0,9 10,0" fill="#12ad51"/><polygon points="-10.5,0 0,-9.5 10.5,0 0,9.5" fill="none" stroke="#d9f2e2" stroke-width="1.4"/><line x1="-7" y1="0" x2="7" y2="0" stroke="#d9f2e2" stroke-width="2"/></g>
<g transform="translate(1132.1,136.3)"><polygon points="-11,0 -1,-9.5 -1,9.5" fill="#111" stroke="#d9f2e2" stroke-width="1.2"/><polygon points="11,0 1,-9.5 1,9.5" fill="#12ad51" stroke="#d9f2e2" stroke-width="1.4"/></g>
<g transform="translate(1161.3999999999999,136.3)"><polygon points="-11,7 11,7 11,-7" fill="#111"/><rect x="-11.5" y="-7.5" width="23" height="15" fill="none" stroke="#d9f2e2" stroke-width="1.4"/><line x1="-11.5" y1="7.5" x2="11.5" y2="-7.5" stroke="#d9f2e2" stroke-width="1.4"/></g>
<rect x="1100.3" y="147.4" width="57.5" height="38" fill="url(#gStem)"/>
<rect x="1087.8" y="184.4" width="83.5" height="54.5" fill="url(#gBody)" stroke="#8e8e8e" stroke-width="1.5"/>
<rect x="1071.8" y="462" width="115.5" height="116.4" fill="#12ad51" stroke="#86d6a2" stroke-width="1.6"/>
<rect x="1081.8" y="469.8" width="95" height="61" fill="url(#gScreen)" stroke="#cfe9d8" stroke-width="1.8"/>
<text x="1132.3" y="494.8" font-size="31" fill="#4f4f4f" font-weight="normal" text-anchor="middle" >500</text>
<text x="1132.3" y="521.6" font-size="31" fill="#4f4f4f" font-weight="normal" text-anchor="middle" >l/h</text>
<text x="1130.05" y="552.4" font-size="25.5" fill="#36995c" font-weight="normal" text-anchor="middle" >ISOMAG</text>
<g transform="translate(1099.0,567.8)"><polygon points="-10,0 0,-9 10,0" fill="#111"/><polygon points="-10,0 0,9 10,0" fill="#12ad51"/><polygon points="-10.5,0 0,-9.5 10.5,0 0,9.5" fill="none" stroke="#d9f2e2" stroke-width="1.4"/><line x1="-7" y1="0" x2="7" y2="0" stroke="#d9f2e2" stroke-width="2"/></g>
<g transform="translate(1132.1,567.8)"><polygon points="-11,0 -1,-9.5 -1,9.5" fill="#111" stroke="#d9f2e2" stroke-width="1.2"/><polygon points="11,0 1,-9.5 1,9.5" fill="#12ad51" stroke="#d9f2e2" stroke-width="1.4"/></g>
<g transform="translate(1161.3999999999999,567.8)"><polygon points="-11,7 11,7 11,-7" fill="#111"/><rect x="-11.5" y="-7.5" width="23" height="15" fill="none" stroke="#d9f2e2" stroke-width="1.4"/><line x1="-11.5" y1="7.5" x2="11.5" y2="-7.5" stroke="#d9f2e2" stroke-width="1.4"/></g>
<rect x="1100.3" y="578.9" width="57.5" height="38" fill="url(#gStem)"/>
<rect x="1087.8" y="615.9" width="83.5" height="54.5" fill="url(#gBody)" stroke="#8e8e8e" stroke-width="1.5"/>
<path d="M1814.6,422 C1814.6,376 1842,352.7 1878.5,352.7 C1915,352.7 1942.4,376 1942.4,422 Z" fill="url(#gCompDome)"/>
<rect x="1814.6" y="421.8" width="127.8" height="207.2" fill="url(#gComp)"/>
<rect x="1814.6" y="421.8" width="127.8" height="207.2" fill="url(#gCompV)"/>
<rect x="1814.6" y="352.7" width="127.8" height="276.3" fill="none"/>
<line x1="1814.6" y1="421.8" x2="1942.4" y2="421.8" stroke="#8a8a8a" stroke-width="1.2"/>
<path d="M1814.6,629 V422 M1942.4,422 V629 H1814.6" fill="none" stroke="#9a9a9a" stroke-width="1.2"/>
<rect x="1799.6" y="441.8" width="15" height="22.6" fill="#dedede" stroke="#6e6e6e" stroke-width="2.2"/>
<rect x="1942.6" y="496" width="27.6" height="22.6" fill="#dedede" stroke="#6e6e6e" stroke-width="2.2"/>
<rect x="1825.5" y="480.5" width="40" height="33" fill="url(#gWin)" stroke="#b5b5b5" stroke-width="1"/>
<path d="M1444,735 C1444,720 1458,712 1472.5,712 C1487,712 1501,720 1501,735 Z" fill="#8d8d8d"/>
<path d="M1444,789 C1444,803 1458,812.5 1472.5,812.5 C1487,812.5 1501,803 1501,789 Z" fill="url(#gRecvV)"/>
<rect x="1444" y="734.5" width="57" height="52" fill="url(#gRecv)"/>
<rect x="1444" y="734.5" width="57" height="52" fill="url(#gCompV)"/>
<line x1="1444" y1="735" x2="1501" y2="735" stroke="#c4c4c4" stroke-width="1.3"/>
<rect x="1441.5" y="784.4" width="62" height="4.2" fill="#6a6a6a"/>
<circle cx="1640.8" cy="744" r="20.2" fill="#9a9a9a" stroke="#5c5c5c" stroke-width="4.4"/>
<circle cx="1640.8" cy="744" r="14.2" fill="url(#gSight)" stroke="#e0e0e0" stroke-width="1.5"/>
<circle cx="2114.9" cy="743.4" r="20.2" fill="#9a9a9a" stroke="#5c5c5c" stroke-width="4.4"/>
<circle cx="2114.9" cy="743.4" r="14.2" fill="url(#gSight)" stroke="#e0e0e0" stroke-width="1.5"/>
<rect x="1748" y="712" width="23.6" height="21" fill="url(#gStem)"/>
<rect x="1736.2" y="731.8" width="47.6" height="24.9" fill="url(#gBody)" stroke="#8a8a8a" stroke-width="1.3"/>
<circle cx="1760" cy="681" r="34.6" fill="#1f7ecb" stroke="#848a90" stroke-width="3.2"/>
<circle cx="1760" cy="681" r="25.4" fill="url(#gFace)" stroke="#5a6b7c" stroke-width="1.4"/>
<text x="1761" y="686" font-size="21" fill="#555" font-weight="normal" text-anchor="middle" >20</text>
<circle cx="1752.4" cy="696.8" r="5.2" fill="#e8262b" stroke="#a56a6a" stroke-width="1.6"/>
<circle cx="1769.9" cy="696.8" r="5.2" fill="#1fae55" stroke="#5f9474" stroke-width="1.6"/>
<path d="M1964,727 C1954,729 1951,737 1951,743.2 C1951,750 1954,757.5 1964,759.4 Z" fill="#b9b9b9"/>
<path d="M2003,727 C2014,729 2019,737 2019,743.2 C2019,750 2014,757.5 2003,759.4 Z" fill="#7c7c7c"/>
<rect x="1966" y="727" width="35" height="32.4" fill="url(#gBody)"/>
<rect x="1966" y="727" width="35" height="32.4" fill="url(#gStem)" opacity="0.55"/>
<rect x="1962.6" y="725" width="6.6" height="36.6" fill="#8a8a8a" stroke="#6e6e6e" stroke-width="1"/>
<rect x="1998.3" y="725" width="6.6" height="36.6" fill="#8a8a8a" stroke="#6e6e6e" stroke-width="1"/>
<g transform="translate(2237,702) rotate(-45)"><line x1="0" y1="0" x2="0" y2="-38" stroke="#666" stroke-width="5.4"/><path d="M-22.5,-37 C-20,-59 20,-59 22.5,-37 C13,-33.5 -13,-33.5 -22.5,-37 Z" fill="#7d7d7d" stroke="#646464" stroke-width="2.2"/><polygon points="-37.5,-20 -37.5,20 0,0" fill="#7d7d7d" stroke="#686868" stroke-width="3" stroke-linejoin="round"/><polygon points="37.5,-20 37.5,20 0,0" fill="#7d7d7d" stroke="#686868" stroke-width="3" stroke-linejoin="round"/><circle r="19" fill="#808080" stroke="#686868" stroke-width="3"/><path d="M-37.5,-20 L37.5,20 M-37.5,20 L37.5,-20" stroke="#686868" stroke-width="2"/></g>
<g transform="translate(2337.5,125) scale(1.0)"><path d="M-19.5,0 H19.5 V12 L10.4,40 H-10.4 L-19.5,12 Z" fill="#8a8a8a" stroke="#606060" stroke-width="3" stroke-linejoin="round"/><rect x="-17.5" y="8.5" width="35" height="4.4" fill="#606060"/></g>
<g transform="translate(1659.8,423.5) rotate(0)"><g transform="rotate(0)"><rect x="-8.7" y="32" width="17.4" height="15" fill="#606060"/><rect x="-4.5" y="34" width="9" height="11" fill="#858585"/></g><circle r="29.3" fill="#fff" stroke="#606060" stroke-width="9.4"/><line x1="0.00" y1="-25.10" x2="0.00" y2="-22.00" stroke="#606060" stroke-width="4.4" stroke-linecap="round"/><line x1="-17.75" y1="-17.75" x2="-15.56" y2="-15.56" stroke="#606060" stroke-width="4.4" stroke-linecap="round"/><line x1="17.75" y1="-17.75" x2="15.56" y2="-15.56" stroke="#606060" stroke-width="4.4" stroke-linecap="round"/><line x1="-25.10" y1="0.00" x2="-22.00" y2="0.00" stroke="#606060" stroke-width="4.4" stroke-linecap="round"/><line x1="25.10" y1="0.00" x2="22.00" y2="0.00" stroke="#606060" stroke-width="4.4" stroke-linecap="round"/><text x="0" y="21.3" font-size="43" fill="#5e5e5e" text-anchor="middle">T</text></g>
<g transform="translate(1743,423.5) rotate(0)"><g transform="rotate(0)"><rect x="-8.7" y="32" width="17.4" height="15" fill="#606060"/><rect x="-4.5" y="34" width="9" height="11" fill="#858585"/></g><circle r="29.3" fill="#fff" stroke="#606060" stroke-width="9.4"/><line x1="0.00" y1="-25.10" x2="0.00" y2="-22.00" stroke="#606060" stroke-width="4.4" stroke-linecap="round"/><line x1="-17.75" y1="-17.75" x2="-15.56" y2="-15.56" stroke="#606060" stroke-width="4.4" stroke-linecap="round"/><line x1="17.75" y1="-17.75" x2="15.56" y2="-15.56" stroke="#606060" stroke-width="4.4" stroke-linecap="round"/><line x1="-25.10" y1="0.00" x2="-22.00" y2="0.00" stroke="#606060" stroke-width="4.4" stroke-linecap="round"/><line x1="25.10" y1="0.00" x2="22.00" y2="0.00" stroke="#606060" stroke-width="4.4" stroke-linecap="round"/><text x="0" y="16.8" font-size="46.5" fill="#5e5e5e" text-anchor="middle">P</text></g>
<g transform="translate(2064.2,459.8) rotate(0)"><g transform="rotate(0)"><rect x="-8.7" y="32" width="17.4" height="15" fill="#606060"/><rect x="-4.5" y="34" width="9" height="11" fill="#858585"/></g><circle r="29.3" fill="#fff" stroke="#606060" stroke-width="9.4"/><line x1="0.00" y1="-25.10" x2="0.00" y2="-22.00" stroke="#606060" stroke-width="4.4" stroke-linecap="round"/><line x1="-17.75" y1="-17.75" x2="-15.56" y2="-15.56" stroke="#606060" stroke-width="4.4" stroke-linecap="round"/><line x1="17.75" y1="-17.75" x2="15.56" y2="-15.56" stroke="#606060" stroke-width="4.4" stroke-linecap="round"/><line x1="-25.10" y1="0.00" x2="-22.00" y2="0.00" stroke="#606060" stroke-width="4.4" stroke-linecap="round"/><line x1="25.10" y1="0.00" x2="22.00" y2="0.00" stroke="#606060" stroke-width="4.4" stroke-linecap="round"/><text x="0" y="16.8" font-size="46.5" fill="#5e5e5e" text-anchor="middle">P</text></g>
<g transform="translate(2141.6,460.4) rotate(0)"><g transform="rotate(0)"><rect x="-8.7" y="32" width="17.4" height="15" fill="#606060"/><rect x="-4.5" y="34" width="9" height="11" fill="#858585"/></g><circle r="29.3" fill="#fff" stroke="#606060" stroke-width="9.4"/><line x1="0.00" y1="-25.10" x2="0.00" y2="-22.00" stroke="#606060" stroke-width="4.4" stroke-linecap="round"/><line x1="-17.75" y1="-17.75" x2="-15.56" y2="-15.56" stroke="#606060" stroke-width="4.4" stroke-linecap="round"/><line x1="17.75" y1="-17.75" x2="15.56" y2="-15.56" stroke="#606060" stroke-width="4.4" stroke-linecap="round"/><line x1="-25.10" y1="0.00" x2="-22.00" y2="0.00" stroke="#606060" stroke-width="4.4" stroke-linecap="round"/><line x1="25.10" y1="0.00" x2="22.00" y2="0.00" stroke="#606060" stroke-width="4.4" stroke-linecap="round"/><text x="0" y="21.3" font-size="43" fill="#5e5e5e" text-anchor="middle">T</text></g>
<g transform="translate(1653.4,567.6) rotate(0)"><g transform="rotate(90)"><rect x="-8.7" y="38.3" width="17.4" height="17.5" fill="#606060"/><rect x="-4.5" y="40.3" width="9" height="13.5" fill="#858585"/></g><circle r="35.599999999999994" fill="#fff" stroke="#606060" stroke-width="9.4"/><line x1="0.00" y1="-31.40" x2="0.00" y2="-28.30" stroke="#606060" stroke-width="4.4" stroke-linecap="round"/><line x1="-22.20" y1="-22.20" x2="-20.01" y2="-20.01" stroke="#606060" stroke-width="4.4" stroke-linecap="round"/><line x1="22.20" y1="-22.20" x2="20.01" y2="-20.01" stroke="#606060" stroke-width="4.4" stroke-linecap="round"/><line x1="-31.40" y1="0.00" x2="-28.30" y2="0.00" stroke="#606060" stroke-width="4.4" stroke-linecap="round"/><line x1="31.40" y1="0.00" x2="28.30" y2="0.00" stroke="#606060" stroke-width="4.4" stroke-linecap="round"/><text x="0" y="19.8" font-size="43" fill="#5e5e5e" text-anchor="middle">ΔP</text></g>
<g transform="translate(2216.9,553) rotate(0)"><g transform="rotate(-90)"><rect x="-8.7" y="38.3" width="17.4" height="16" fill="#606060"/><rect x="-4.5" y="40.3" width="9" height="12" fill="#858585"/></g><circle r="35.599999999999994" fill="#fff" stroke="#606060" stroke-width="9.4"/><line x1="0.00" y1="-31.40" x2="0.00" y2="-28.30" stroke="#606060" stroke-width="4.4" stroke-linecap="round"/><line x1="-22.20" y1="-22.20" x2="-20.01" y2="-20.01" stroke="#606060" stroke-width="4.4" stroke-linecap="round"/><line x1="22.20" y1="-22.20" x2="20.01" y2="-20.01" stroke="#606060" stroke-width="4.4" stroke-linecap="round"/><line x1="-31.40" y1="0.00" x2="-28.30" y2="0.00" stroke="#606060" stroke-width="4.4" stroke-linecap="round"/><line x1="31.40" y1="0.00" x2="28.30" y2="0.00" stroke="#606060" stroke-width="4.4" stroke-linecap="round"/><text x="0" y="19.8" font-size="42" fill="#5e5e5e" text-anchor="middle">ΔP</text></g>
<g transform="translate(1289,484.5) rotate(-45)"><g transform="rotate(0)"><rect x="-8.7" y="35" width="17.4" height="14" fill="#606060"/><rect x="-4.5" y="37" width="9" height="10" fill="#858585"/></g><circle r="32.3" fill="#fff" stroke="#606060" stroke-width="9.4"/><line x1="0.00" y1="-28.10" x2="0.00" y2="-25.00" stroke="#606060" stroke-width="4.4" stroke-linecap="round"/><line x1="-19.87" y1="-19.87" x2="-17.68" y2="-17.68" stroke="#606060" stroke-width="4.4" stroke-linecap="round"/><line x1="19.87" y1="-19.87" x2="17.68" y2="-17.68" stroke="#606060" stroke-width="4.4" stroke-linecap="round"/><line x1="-28.10" y1="0.00" x2="-25.00" y2="0.00" stroke="#606060" stroke-width="4.4" stroke-linecap="round"/><line x1="28.10" y1="0.00" x2="25.00" y2="0.00" stroke="#606060" stroke-width="4.4" stroke-linecap="round"/><text x="0" y="21.3" font-size="43" fill="#5e5e5e" text-anchor="middle">T</text></g>
<g transform="translate(1297.8,607.5) rotate(0)"><g transform="rotate(0)"><rect x="-8.7" y="32" width="17.4" height="11" fill="#606060"/><rect x="-4.5" y="34" width="9" height="7" fill="#858585"/></g><circle r="29.3" fill="#fff" stroke="#606060" stroke-width="9.4"/><line x1="0.00" y1="-25.10" x2="0.00" y2="-22.00" stroke="#606060" stroke-width="4.4" stroke-linecap="round"/><line x1="-17.75" y1="-17.75" x2="-15.56" y2="-15.56" stroke="#606060" stroke-width="4.4" stroke-linecap="round"/><line x1="17.75" y1="-17.75" x2="15.56" y2="-15.56" stroke="#606060" stroke-width="4.4" stroke-linecap="round"/><line x1="-25.10" y1="0.00" x2="-22.00" y2="0.00" stroke="#606060" stroke-width="4.4" stroke-linecap="round"/><line x1="25.10" y1="0.00" x2="22.00" y2="0.00" stroke="#606060" stroke-width="4.4" stroke-linecap="round"/><text x="0" y="21.3" font-size="43" fill="#5e5e5e" text-anchor="middle">T</text></g>
<g transform="translate(1535.9,681.6) rotate(0)"><g transform="rotate(135)"><rect x="-8.7" y="31.700000000000003" width="17.4" height="14" fill="#606060"/><rect x="-4.5" y="33.7" width="9" height="10" fill="#858585"/></g><circle r="29.000000000000004" fill="#fff" stroke="#606060" stroke-width="9.4"/><line x1="0.00" y1="-24.80" x2="0.00" y2="-21.70" stroke="#606060" stroke-width="4.4" stroke-linecap="round"/><line x1="-17.54" y1="-17.54" x2="-15.34" y2="-15.34" stroke="#606060" stroke-width="4.4" stroke-linecap="round"/><line x1="17.54" y1="-17.54" x2="15.34" y2="-15.34" stroke="#606060" stroke-width="4.4" stroke-linecap="round"/><line x1="-24.80" y1="0.00" x2="-21.70" y2="0.00" stroke="#606060" stroke-width="4.4" stroke-linecap="round"/><line x1="24.80" y1="0.00" x2="21.70" y2="0.00" stroke="#606060" stroke-width="4.4" stroke-linecap="round"/><text x="0" y="21.3" font-size="43" fill="#5e5e5e" text-anchor="middle">T</text></g>
<g transform="translate(2418,455.8) rotate(0)"><g transform="rotate(135)"><rect x="-8.7" y="31.6" width="17.4" height="15" fill="#606060"/><rect x="-4.5" y="33.6" width="9" height="11" fill="#858585"/></g><circle r="28.900000000000002" fill="#fff" stroke="#606060" stroke-width="9.4"/><line x1="0.00" y1="-24.70" x2="0.00" y2="-21.60" stroke="#606060" stroke-width="4.4" stroke-linecap="round"/><line x1="-17.47" y1="-17.47" x2="-15.27" y2="-15.27" stroke="#606060" stroke-width="4.4" stroke-linecap="round"/><line x1="17.47" y1="-17.47" x2="15.27" y2="-15.27" stroke="#606060" stroke-width="4.4" stroke-linecap="round"/><line x1="-24.70" y1="0.00" x2="-21.60" y2="0.00" stroke="#606060" stroke-width="4.4" stroke-linecap="round"/><line x1="24.70" y1="0.00" x2="21.60" y2="0.00" stroke="#606060" stroke-width="4.4" stroke-linecap="round"/><text x="0" y="21.3" font-size="43" fill="#5e5e5e" text-anchor="middle">T</text></g>
<g transform="translate(2406.8,687.7) rotate(0)"><g transform="rotate(135)"><rect x="-8.7" y="31" width="17.4" height="14" fill="#606060"/><rect x="-4.5" y="33" width="9" height="10" fill="#858585"/></g><circle r="28.3" fill="#fff" stroke="#606060" stroke-width="9.4"/><line x1="0.00" y1="-24.10" x2="0.00" y2="-21.00" stroke="#606060" stroke-width="4.4" stroke-linecap="round"/><line x1="-17.04" y1="-17.04" x2="-14.85" y2="-14.85" stroke="#606060" stroke-width="4.4" stroke-linecap="round"/><line x1="17.04" y1="-17.04" x2="14.85" y2="-14.85" stroke="#606060" stroke-width="4.4" stroke-linecap="round"/><line x1="-24.10" y1="0.00" x2="-21.00" y2="0.00" stroke="#606060" stroke-width="4.4" stroke-linecap="round"/><line x1="24.10" y1="0.00" x2="21.00" y2="0.00" stroke="#606060" stroke-width="4.4" stroke-linecap="round"/><text x="0" y="21.3" font-size="43" fill="#5e5e5e" text-anchor="middle">T</text></g>
<g transform="translate(545.5,1281)"><polygon points="-41,53.5 41.5,53.5 43,45.5 30,36 -30,36 -42.5,45.5" fill="#575757"/><polygon points="-23,45 -15.8,45 -19.4,41.6" fill="#fff"/><polygon points="22.2,45 15,45 18.6,41.6" fill="#fff"/><circle r="39.5" fill="#fff" stroke="#575757" stroke-width="10"/><polygon points="-38.2,-42.5 -19.2,-61 -19.2,-19.5" fill="#575757"/><polygon points="0.5,0 20.8,-20 20.8,-5.4 60.5,-5.4 60.5,5.4 20.8,5.4 20.8,20" fill="#575757"/></g>
<g transform="translate(1029.6,1282.5)"><polygon points="-41,53.5 41.5,53.5 43,45.5 30,36 -30,36 -42.5,45.5" fill="#575757"/><polygon points="-23,45 -15.8,45 -19.4,41.6" fill="#fff"/><polygon points="22.2,45 15,45 18.6,41.6" fill="#fff"/><circle r="39.5" fill="#fff" stroke="#575757" stroke-width="10"/><polygon points="-38.2,-42.5 -19.2,-61 -19.2,-19.5" fill="#575757"/><polygon points="0.5,0 20.8,-20 20.8,-5.4 60.5,-5.4 60.5,5.4 20.8,5.4 20.8,20" fill="#575757"/></g>
<g transform="translate(689.4,1233.2)"><clipPath id="vclip1"><ellipse rx="36.3" ry="29.6"/></clipPath><rect x="-8.2" y="27.6" width="16.4" height="20.199999999999953" fill="#555555"/><rect x="-1.7" y="33.0" width="3.4" height="11.799999999999953" fill="#fff"/><ellipse rx="33.8" ry="27.1" fill="#fff" stroke="#555555" stroke-width="7"/><g clip-path="url(#vclip1)"><path d="M-37.3,0.6 H2.0 M-37.3,-7.7 H-6.5" stroke="#555555" stroke-width="6.0" stroke-linecap="round"/><path d="M-37.3,-12.0 L-24.0,-12.4 L-2.0,-12.4 C1.0,-13.0 1.5,-16.0 3.0,-17.0 C6.0,-17.5 7.0,-20.0 9.0,-21.5 C11.0,-23.0 11.0,-26.0 9.0,-29.0 L-10.0,-32.6 L-37.3,-32.6 Z" fill="#555555"/><path d="M-16.5,-19.3 L-10.0,-23.3 L-10.0,-19.3 Z" fill="#fff"/></g></g>
<g transform="translate(1290.4,1234)"><clipPath id="vclip2"><ellipse rx="36.3" ry="29.6"/></clipPath><rect x="-8.2" y="27.6" width="16.4" height="20.9" fill="#555555"/><rect x="-1.7" y="33.0" width="3.4" height="12.499999999999998" fill="#fff"/><ellipse rx="33.8" ry="27.1" fill="#fff" stroke="#555555" stroke-width="7"/><g clip-path="url(#vclip2)"><path d="M-37.3,0.6 H2.0 M-37.3,-7.7 H-6.5" stroke="#555555" stroke-width="6.0" stroke-linecap="round"/><path d="M-37.3,-12.0 L-24.0,-12.4 L-2.0,-12.4 C1.0,-13.0 1.5,-16.0 3.0,-17.0 C6.0,-17.5 7.0,-20.0 9.0,-21.5 C11.0,-23.0 11.0,-26.0 9.0,-29.0 L-10.0,-32.6 L-37.3,-32.6 Z" fill="#555555"/><path d="M-16.5,-19.3 L-10.0,-23.3 L-10.0,-19.3 Z" fill="#fff"/></g></g>
<path d="M617.6,1274.7 H661.1 V1287.2 L647.8,1287.2 L655.1,1296.2 L646.3,1305.3 L633.1,1287.2 H617.6 Z" fill="url(#gDrain)" stroke="#707070" stroke-width="1.3" stroke-linejoin="round"/>
<path d="M1202.7,1275.6 H1246.2 V1288.1 L1232.9,1288.1 L1240.2,1297.1 L1231.4,1306.2 L1218.2,1288.1 H1202.7 Z" fill="url(#gDrain)" stroke="#707070" stroke-width="1.3" stroke-linejoin="round"/>
<rect x="1421" y="891.5" width="836" height="373" fill="none" stroke="#7f7f7f" stroke-width="4"/>
<text x="1443" y="933.4" font-size="42.5" fill="#555555" font-weight="normal" text-anchor="start" >Legend</text>
<line x1="1446" y1="987.3" x2="1527" y2="987.3" stroke="#c00000" stroke-width="4.6" stroke-linecap="round" stroke-dasharray="2.8 8"/>
<text x="1545.3" y="997" font-size="42.5" fill="#555555" font-weight="normal" text-anchor="start" >Control line</text>
<line x1="1447" y1="1036.5" x2="1529.5" y2="1036.5" stroke="#c00000" stroke-width="8" stroke-linecap="round"/>
<text x="1549.7" y="1046.6" font-size="42.5" fill="#555555" font-weight="normal" text-anchor="start" >Refrigerant pipe</text>
<line x1="1445.5" y1="1091" x2="1529.5" y2="1091" stroke="#595959" stroke-width="5" stroke-linecap="round"/>
<text x="1548.2" y="1108.3" font-size="42.5" fill="#555555" font-weight="normal" text-anchor="start" >Water pipe</text>
<line x1="1443" y1="1157.2" x2="1506" y2="1157.2" stroke="#808080" stroke-width="6"/>
<polygon points="1536.0,1157.2 1504.0,1141.2 1504.0,1173.2" fill="#808080"/>
<text x="1551.2" y="1167.6" font-size="42.5" fill="#555555" font-weight="normal" text-anchor="start" >Flow direction</text>
<g transform="translate(1487.9,1213.7)"><clipPath id="vclip3"><ellipse rx="31.799999999999997" ry="26.3"/></clipPath><rect x="-7.65" y="24.3" width="15.3" height="20.79999999999991" fill="#555555"/><rect x="-0.9" y="29.7" width="1.8" height="12.399999999999908" fill="#fff"/><ellipse rx="29.499999999999996" ry="24.0" fill="#fff" stroke="#555555" stroke-width="6.6"/><g clip-path="url(#vclip3)"><path d="M-32.8,1.3 H1.0 A3.0,3.0 0 0 0 1.0,-4.7 L-5.0,-4.7 C-3.0,-6.0 -5.0,-8.0 -2.5,-9.5 C-0.5,-10.5 -2.0,-12.5 0.5,-13.5 C3.0,-14.5 2.0,-16.5 4.5,-17.5 L8.5,-20.0 L6.0,-29.3 L-32.8,-29.3 Z" fill="#555555"/><path d="M-12.0,-15.6 L-7.0,-18.0 L-8.5,-16.0 Z" fill="#fff"/><path d="M-22.0,-9.5 L-19.0,-11.0 L-19.5,-9.5 Z" fill="#fff"/></g></g>
<text x="1560" y="1234.3" font-size="42.5" fill="#555555" font-weight="normal" text-anchor="start" >Vessel</text>
<g transform="translate(1901.3,986.4) rotate(0)"><rect x="-0.3" y="-35.8" width="22.3" height="22.8" fill="url(#gAct)" stroke="#666" stroke-width="1.5"/><polygon points="-26.35,-13.0 -26.35,13.0 0,0" fill="url(#gTri)" stroke="#6a6a6a" stroke-width="1.5" stroke-linejoin="round"/><polygon points="26.35,-13.0 26.35,13.0 0,0" fill="url(#gTriR)" stroke="#6a6a6a" stroke-width="1.5" stroke-linejoin="round"/></g>
<text x="1957.4" y="997" font-size="42.5" fill="#555555" font-weight="normal" text-anchor="start" >Powered valve</text>
<g transform="translate(1902.5,1035) rotate(0)"><polygon points="-31.0,-16.3 -31.0,16.3 0,0" fill="#808080" stroke="#666" stroke-width="1.5" stroke-linejoin="round"/><polygon points="31.0,-16.3 31.0,16.3 0,0" fill="#808080" stroke="#666" stroke-width="1.5" stroke-linejoin="round"/><circle r="16.3" fill="#8c8c8c" stroke="#666" stroke-width="1.5"/><path d="M-31.0,-16.3 L31.0,16.3 M-31.0,16.3 L31.0,-16.3" stroke="#666" stroke-width="1.3"/></g>
<text x="1961.8" y="1052.8" font-size="42.5" fill="#555555" font-weight="normal" text-anchor="start" >Ball valve</text>
<g transform="translate(1906,1072.5) scale(0.67)"><path d="M-19.5,0 H19.5 V12 L10.4,40 H-10.4 L-19.5,12 Z" fill="#8a8a8a" stroke="#606060" stroke-width="3" stroke-linejoin="round"/><rect x="-17.5" y="8.5" width="35" height="4.4" fill="#606060"/></g>
<line x1="1906" y1="1100" x2="1906" y2="1130" stroke="#595959" stroke-width="3.4" stroke-linecap="round"/>
<text x="1959.7" y="1118.7" font-size="42.5" fill="#555555" font-weight="normal" text-anchor="start" >Exhaust</text>
<path d="M1874.2,1142.4 H1932.5 V1160.4 L1913.1,1160.4 L1921.7,1175.3 L1906.6,1184.4 L1892.2,1160.4 H1874.2 Z" fill="url(#gDrain)" stroke="#707070" stroke-width="1.3" stroke-linejoin="round"/>
<text x="1961.8" y="1186.8" font-size="42.5" fill="#555555" font-weight="normal" text-anchor="start" >Drain</text>
<g transform="translate(1904.6,1235)"><line x1="0" y1="0" x2="0" y2="-27" stroke="#666" stroke-width="4.5"/><path d="M-15.5,-26 C-14,-41 14,-41 15.5,-26 C9,-24 -9,-24 -15.5,-26 Z" fill="#6e6e6e"/><polygon points="-26,-15.5 -26,15.5 0,0" fill="#7d7d7d" stroke="#646464" stroke-width="3" stroke-linejoin="round"/><polygon points="26,-15.5 26,15.5 0,0" fill="#7d7d7d" stroke="#646464" stroke-width="3" stroke-linejoin="round"/><circle r="11.5" fill="#7a7a7a" stroke="#5e5e5e" stroke-width="3"/><path d="M-26,-15.5 L26,15.5 M-26,15.5 L26,-15.5" stroke="#5e5e5e" stroke-width="1.6"/></g>
<text x="1959.7" y="1250.6" font-size="42.5" fill="#555555" font-weight="normal" text-anchor="start" >Expansion valve</text>
<text x="466" y="133" font-size="50.5" fill="#555555">Heater<tspan font-size="30" dx="15" dy="7">3</tspan></text>
<text x="626" y="248" font-size="43" fill="#555555">V<tspan font-size="28" dx="0" dy="7">5</tspan></text>
<text x="725" y="343" font-size="43" fill="#555555">V<tspan font-size="28" dx="-2" dy="7">3</tspan></text>
<text x="1330.8" y="372.7" font-size="41" fill="#555555">V<tspan font-size="27" dx="-2" dy="6">2</tspan></text>
<text x="549.5" y="827.2" font-size="41.5" fill="#555555">V<tspan font-size="27" dx="-1" dy="6">4</tspan></text>
<text x="732.3" y="1334.2" font-size="45" fill="#555555">V<tspan font-size="29" dx="5" dy="8">3</tspan></text>
<text x="2363" y="819" font-size="42" fill="#555555">V<tspan font-size="28" dx="-1" dy="6">1</tspan></text>
<text x="1051.4" y="270.3" font-size="43" fill="#555555" font-weight="normal" text-anchor="start" >Flow meter</text>
<text x="1010.4" y="699.6" font-size="42.6" fill="#555555" font-weight="normal" text-anchor="start" >Flow meter</text>
<text x="47" y="1170.2" font-size="42.5" fill="#555555" font-weight="normal" text-anchor="start" >DTU</text>
<text x="24" y="1210.4" font-size="42.5" fill="#555555" font-weight="normal" text-anchor="start" letter-spacing="-0.3" >Cooling</text>
<text x="494.5" y="1372.2" font-size="42.5" fill="#555555">Pump<tspan font-size="26" dx="0" dy="7">2</tspan></text>
<text x="983.5" y="1372.2" font-size="42.5" fill="#555555">Pump<tspan font-size="26" dx="0" dy="7">1</tspan></text>
<text x="1410.9" y="836.6" font-size="42.5" fill="#555555" font-weight="normal" text-anchor="start" >Receiver</text>
<text x="1586.2" y="798.5" font-size="42.5" fill="#555555" font-weight="normal" text-anchor="start" >Sight</text>
<text x="1587.4" y="836.6" font-size="42.5" fill="#555555" font-weight="normal" text-anchor="start" >glass</text>
<text x="1735.2" y="793.6" font-size="42.5" fill="#555555" font-weight="normal" text-anchor="start" >Flow</text>
<text x="1731.8" y="832.4" font-size="42.5" fill="#555555" font-weight="normal" text-anchor="start" >meter</text>
<text x="1936.6" y="799.6" font-size="42.5" fill="#555555" font-weight="normal" text-anchor="start" >Dryer</text>
<text x="2092.4" y="799.7" font-size="42.5" fill="#555555" font-weight="normal" text-anchor="start" >Sight</text>
<text x="2093.6" y="840.5" font-size="42.5" fill="#555555" font-weight="normal" text-anchor="start" >glass</text>
<text transform="translate(935.3,593.5) rotate(-90)" font-size="42.5" fill="#555555">Heater<tspan font-size="27" dx="0" dy="6">1</tspan></text>
<text transform="translate(562,1094.2) rotate(-90)" font-size="42.5" fill="#555555">Heater<tspan font-size="24.5" dx="13" dy="7">2</tspan></text>
<text transform="translate(394.3,1118.6) rotate(-90)" font-size="43.3" fill="#555555">Exchanger<tspan font-size="21" dx="13" dy="6">2</tspan></text>
<text transform="translate(948.9,1128) rotate(-90)" font-size="43.3" fill="#555555">Exchanger<tspan font-size="21" dx="15" dy="7">1</tspan></text>
<text x="1196" y="191.9" font-size="52" fill="#111111">(ṁ<tspan font-size="31" dy="8.6">w,e</tspan><tspan dy="-8.6">)</tspan></text>
<text x="1053" y="753.2" font-size="52" fill="#111111">(ṁ<tspan font-size="31" dy="8.8">w,c</tspan><tspan dy="-8.8">)</tspan></text>
<text x="1788" y="717.8" font-size="52" fill="#111111">(ṁ<tspan font-size="29" dy="6.4">r</tspan><tspan dy="-6.4">)</tspan></text>
<text x="1228" y="558.2" font-size="50" fill="#111111">(t<tspan font-size="33" dy="8.4">w,c,o</tspan><tspan dy="-8.4">)</tspan></text>
<text x="1238.4" y="696.6" font-size="51" fill="#111111">(t<tspan font-size="33.5" dy="7.1">w,c,i</tspan><tspan dy="-7.1">)</tspan></text>
<text x="1611.6" y="382" font-size="50" fill="#111111">(t<tspan font-size="32.5" dy="7.3">r,c,i</tspan><tspan dy="-7.3">)</tspan></text>
<text x="1724.6" y="382" font-size="50" fill="#111111">(P<tspan font-size="31" dy="7.4">4</tspan><tspan dy="-7.4">)</tspan></text>
<text x="1478" y="588.7" font-size="50" fill="#111111">(t<tspan font-size="32" dy="7.3">r,c,o</tspan><tspan dy="-7.3">)</tspan></text>
<text x="1703" y="584.2" font-size="47" fill="#111111">(ΔP<tspan font-size="29" dy="6.4">2</tspan><tspan dy="-6.4">)</tspan></text>
<text x="2028" y="406.2" font-size="50" fill="#111111">(P<tspan font-size="31" dy="6.7">3</tspan><tspan dy="-6.7">)</tspan></text>
<text x="2118.7" y="401.6" font-size="50" fill="#111111">(t<tspan font-size="32" dy="6.6">r,e,o</tspan><tspan dy="-6.6">)</tspan></text>
<text x="2066.2" y="577.8" font-size="47" fill="#111111">(ΔP<tspan font-size="29" dy="6.7">1</tspan><tspan dy="-6.7">)</tspan></text>
<text x="2458" y="469.1" font-size="50" fill="#111111">(t<tspan font-size="32" dy="7.6">w,e,i</tspan><tspan dy="-7.6">)</tspan></text>
<text x="2458" y="715.3" font-size="50" fill="#111111">(t<tspan font-size="32" dy="6.8">w,e,o</tspan><tspan dy="-6.8">)</tspan></text>
<text x="1380.8" y="316.6" font-size="51" fill="#111111" font-weight="bold" text-anchor="start" >Condenser</text>
<text x="1752" y="316" font-size="51" fill="#111111" font-weight="bold" text-anchor="start" >Compressor</text>
<text x="2248.6" y="329.6" font-size="51" fill="#111111" font-weight="bold" text-anchor="start" >Evaporator</text>
<text transform="translate(2150.5,706) rotate(-45)" font-size="51" font-weight="bold" fill="#111111" stroke="#111111" stroke-width="1.1">EXV</text>
<line x1="2384" y1="288" x2="2384" y2="346" stroke="#595959" stroke-width="4.2"/></svg>
</body></html>
